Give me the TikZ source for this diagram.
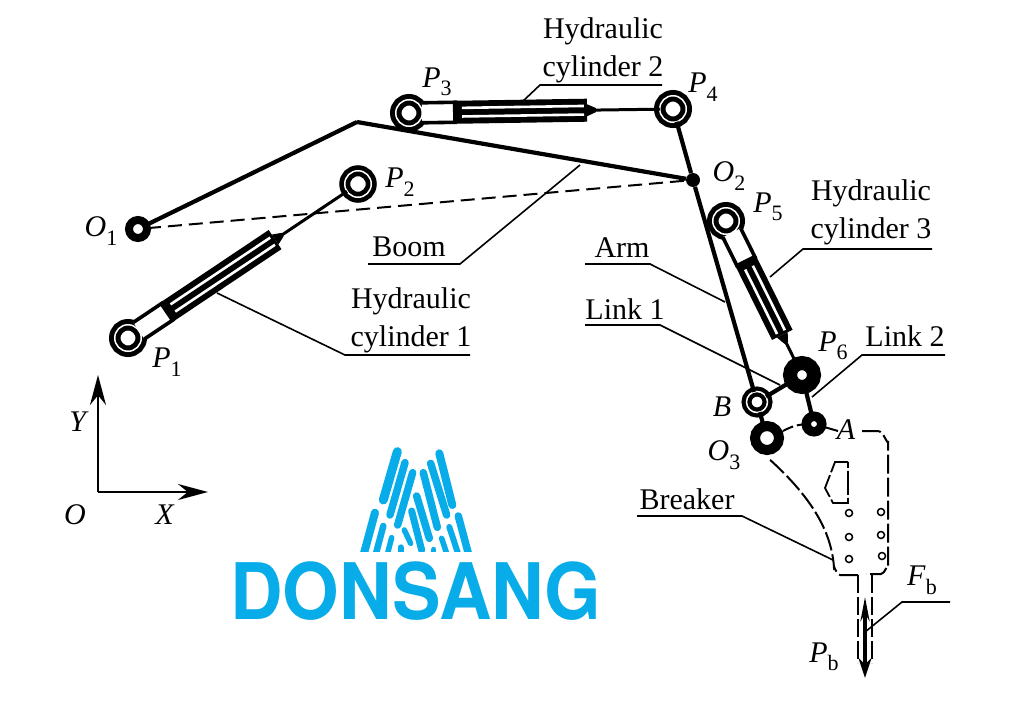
\documentclass[tikz,border=0pt]{standalone}
\usepackage{fontspec}
\setmainfont{Liberation Serif}
\newfontfamily\logofont{TeX Gyre Heros}
\usetikzlibrary{arrows.meta}
\usetikzlibrary{positioning}
\definecolor{logoblue}{RGB}{8,172,232}
\newcommand{\ptname}[2]{\textit{#1}\raisebox{-.28em}{\fontsize{22}{22}\selectfont #2}}
\tikzset{
  pics/hcyl/.style n args={2}{code={
    \fill[white] (13,-10) rectangle (#1,10);
    \draw[line width=3.6pt] (13,10) -- (#1,10) (13,-10) -- (#1,-10);
    \fill (#1-4,-11.5) rectangle (#2,11.5);
    \fill[white] (#1+5,3) rectangle (#2-3,5.6);
    \fill[white] (#1+5,-3) rectangle (#2-3,-5.6);
    \fill (#2,-6) -- (#2+9,-2) -- (#2+9,2) -- (#2,6) -- cycle;
    \coordinate (-tip) at (#2+8,0);
  }}
}
\begin{document}
\begin{tikzpicture}[x=1pt,y=-1pt,on grid,font=\fontsize{30}{38}\selectfont]
  \tikzstyle{pivot}=[draw, circle, fill=white, inner sep=0pt, outer sep=0pt, line width=11.5pt, minimum size=26.5pt, postaction={draw=white,line width=1.5pt}]
  \tikzstyle{hub}=[draw, circle, fill=white, inner sep=0pt, outer sep=0pt]
  \tikzstyle{bar}=[line width=4.2pt]
  \tikzstyle{leader}=[line width=1.6pt]
  \tikzstyle{outline}=[line width=2pt, dash pattern=on 19pt off 4pt]
  \tikzstyle{axis}=[line width=2pt, -{Stealth[length=30pt,width=16pt]}]
  \useasboundingbox[fill=white] (0,0) rectangle (1024,704);

  % pins of the boom, arm and bucket linkage
  \node[pivot] (P1) at (128,338) {};
  \node[hub, line width=8pt, minimum size=18pt] (O1) [above right=109pt and 10pt of P1] {};
  \node[pivot, line width=11pt] (P2) [above right=154pt and 230pt of P1] {};
  \node[pivot] (P3) [above right=71pt and 51pt of P2] {};
  \node[pivot] (P4) [above right=4pt and 264pt of P3] {};
  \node[circle, fill, inner sep=0pt, minimum size=14pt] (O2) [below right=71pt and 20pt of P4] {};
  \node[pivot] (P5) [below right=41pt and 33pt of O2] {};
  \node[hub, line width=14pt, minimum size=24pt] (P6) [below right=154pt and 76pt of P5] {};
  \node[pivot, line width=10pt, minimum size=21pt] (B) [below left=27pt and 45pt of P6] {};
  \node[hub, line width=9.5pt, minimum size=15.5pt] (A) [below right=49pt and 12pt of P6] {};
  \node[hub, line width=10pt, minimum size=24pt] (O3) [below right=36pt and 10pt of B] {};
  \coordinate (knee) at (357,122);

  \path[bar]
    (O1) edge (knee)
    (knee) edge (O2)
    (P4) edge (O2)
    (O2) edge (B)
    (P6) edge (B)
    (P6) edge (A)
    (B) edge (O3);
  \draw[line width=2pt, dash pattern=on 14pt off 7pt] (O1) -- (O2);

  % cylinders
  \pic (cylA) [rotate=33.8] at (P1) {hcyl={49}{177}};
  \pic (cylB) [rotate=0.9] at (P3) {hcyl={48}{178}};
  \pic (cylC) [rotate=-63.7] at (P5) {hcyl={47}{127}};
  \path[line width=3pt]
    (cylA-tip) edge (P2)
    (cylB-tip) edge (P4)
    (cylC-tip) edge (P6);

  % pin names
  \node (nP1) [below right=24pt and 39pt of P1] {\ptname{P}{1}};
  \node (nP2) [above right=2pt and 42pt of P2] {\ptname{P}{2}};
  \node (nP3) [above right=31pt and 28pt of P3] {\ptname{P}{3}};
  \node (nP4) [above right=22pt and 30pt of P4] {\ptname{P}{4}};
  \node (nO2) [above right=4pt and 36pt of O2] {\ptname{O}{2}};
  \node (nP5) [above right=14pt and 42pt of P5] {\ptname{P}{5}};
  \node (nP6) [above right=29pt and 31pt of P6] {\ptname{P}{6}};
  \node (nO1) [below left=2pt and 37pt of O1] {\ptname{O}{1}};
  \node (nB) [below left=5pt and 35pt of B] {\textit{B}};
  \node (nA) [below right=6pt and 32pt of A] {\textit{A}};
  \node (nO3) [below left=17pt and 43pt of O3] {\ptname{O}{3}};

  % part names and their leaders
  \node[align=center] (lCylB) [above right=63pt and 194pt of P3] {Hydraulic\\cylinder 2};
  \node[align=center] (lCylA) [above right=18pt and 283pt of P1] {Hydraulic\\cylinder 1};
  \node[align=center] (lCylC) [above right=9pt and 145pt of P5] {Hydraulic\\cylinder 3};
  \node (lBoom) [below right=63pt and 51pt of P2] {Boom};
  \node (lArm) [right=213pt of lBoom, yshift=-1pt] {Arm};
  \node (lLinkA) [below right=61pt and 3pt of lArm] {Link 1};
  \node (lLinkB) [above right=39pt and 103pt of P6] {Link 2};
  \node (lBreaker) [below left=97pt and 70pt of B] {Breaker};
  \coordinate (a1) at (662,85); \coordinate (a2) at (540,85); \coordinate (a3) at (522,102);
  \coordinate (b1) at (470,355); \coordinate (b2) at (345,355); \coordinate (b3) at (217,293);
  \coordinate (c1) at (932,249); \coordinate (c2) at (803,249); \coordinate (c3) at (770,277);
  \coordinate (d1) at (368,264); \coordinate (d2) at (460,264); \coordinate (d3) at (580,165);
  \coordinate (e1) at (585,264); \coordinate (e2) at (650,264); \coordinate (e3) at (725,302);
  \coordinate (f1) at (585,325); \coordinate (f2) at (660,325); \coordinate (f3) at (780,385);
  \coordinate (g1) at (945,355); \coordinate (g2) at (862,355); \coordinate (g3) at (812,397);
  \coordinate (h1) at (637,516); \coordinate (h2) at (742,516); \coordinate (h3) at (833,560);
  \coordinate (i1) at (950,602); \coordinate (i2) at (902,602); \coordinate (i3) at (865,632);
  \foreach \l in {a,b,c,d,e,f,g,h,i}
    \draw[leader] (\l1) -- (\l2) -- (\l3);

  % breaker, dashed
  \draw[line width=2pt, dash pattern=on 11pt off 4pt] (783,431) to[bend left=12] (A);
  \draw[line width=2pt] (A) -- (838,431);
  \draw[outline] (862,431) -- (878,431) to[out=0,in=-90] (888,441) -- (888,566) to[out=90,in=0] (881,574) -- (866,574);
  \draw[outline] (858,575) -- (840,575) to[out=180,in=90] (834,568) .. controls (832,535) and (815,500) .. (768,458);
  \draw[line width=1.8pt, dash pattern=on 24pt off 3pt] (848,462) -- (835,462) -- (825,488) -- (833,503) -- (848,503) -- cycle;
  \foreach \hx/\hy in {849/513,849/537,849/559,881/512,881/535,882/556}
    \draw[line width=1.5pt] (\hx,\hy) circle (3.5);
  \draw[line width=2pt, dash pattern=on 18pt off 4pt] (858,575) -- (858,663);
  \draw[line width=2pt, dash pattern=on 18pt off 4pt] (872,575) -- (872,663);
  \coordinate (chiselTop) at (865,597);
  \coordinate (chiselEnd) at (865,678);
  \draw[line width=3.5pt, {Stealth[length=24pt,width=9pt]}-{Stealth[length=20pt,width=13pt]}] (chiselTop) -- (chiselEnd);
  \node (nFb) [above=34pt of i3, xshift=57pt] {\ptname{F}{b}};
  \node (nPb) [below=7pt of i3, xshift=-41pt] {\ptname{P}{b}};

  % axes
  \coordinate (origin) at (98,492);
  \coordinate (yTip) at (98,375);
  \coordinate (xTip) at (208,492);
  \draw[axis] (origin) -- (yTip);
  \draw[axis] (origin) -- (xTip);
  \node (nY) [above=57pt of origin, xshift=-19pt] {\textit{Y}};
  \node (nO) [below=9pt of origin, xshift=-23pt] {\textit{O}};
  \node (nX) [below=9pt of origin, xshift=67pt] {\textit{X}};

  % logo
  \begin{scope}[shift={(220,440)},scale=0.3333,color=logoblue,line cap=round]
    \clip (400,0) rectangle (800,335);
    \foreach \xa/\ya/\xb/\yb/\w in {532/35/490/180/9,555/68/510/225/7.5,578/98/533/255/7.5,
      658/40/697/195/8,632/70/680/225/7.5,610/98/652/262/7.5,590/168/628/295/7.5,575/213/605/330/7,553/270/572/310/5.5,
      465/218/432/340/8,490/258/468/340/6.5,515/293/503/340/5.5,
      715/228/745/340/7.5,688/261/714/340/6,665/295/680/340/5.5,542/322/542/335/6,642/328/642/335/5}
      \draw[line width=\w pt] (\xa,\ya) -- (\xb,\yb);
  \end{scope}
  \node[text=logoblue, xscale=0.933, font=\logofont\bfseries\fontsize{78}{78}\selectfont] (logo) at (416,591) {DONSANG};
\end{tikzpicture}
\end{document}
